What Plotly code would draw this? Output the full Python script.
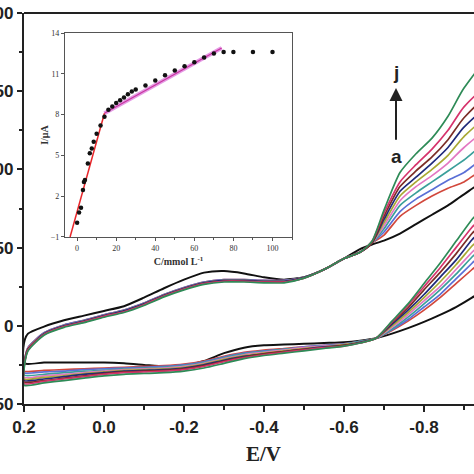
import plotly.graph_objects as go

# ---------------- main CV data ----------------
E_up = [0.2, 0.19, 0.15, 0.1, 0.05, 0.0, -0.05, -0.1, -0.15, -0.2, -0.25, -0.3, -0.35, -0.4,
        -0.45, -0.5, -0.55, -0.6, -0.64, -0.67, -0.7, -0.74, -0.78, -0.82, -0.86, -0.9, -0.96]
E_low = [-0.96, -0.92, -0.88, -0.84, -0.8, -0.76, -0.72, -0.68, -0.64, -0.6, -0.55, -0.5, -0.45,
         -0.4, -0.35, -0.3, -0.25, -0.2, -0.15, -0.1, -0.05, 0.0, 0.05, 0.1, 0.15, 0.2]

up_a = [-11, -5, -0.5, 3.5, 6.5, 9.5, 12.5, 18, 24, 29.5, 34, 35, 33.5, 31, 29.5, 31, 36, 43, 49, 52, 54.5, 59, 65, 71, 77, 84, 93]
up_b = [-25, -14, -4.5, 0.5, 3.5, 7, 10, 14.5, 20, 24.5, 28, 29.5, 29.5, 29, 29, 31, 36, 43, 47, 53, 58, 70, 77, 83, 88, 92, 101]
up_c = [-25, -14, -4.5, 0.5, 3.5, 7, 10, 14.5, 20, 24.5, 28, 29.5, 29.5, 29, 29, 31, 36, 43, 47, 53, 60, 73, 81, 87, 93, 98, 108]
up_d = [-25.5, -14.5, -5, 0, 3, 6.5, 9.5, 14, 19.5, 24, 27.5, 29, 29, 28.5, 28.5, 31, 36, 43, 47, 53, 62, 77, 85, 92, 99, 106, 117]
up_e = [-25.5, -14.5, -5, 0, 3, 6.5, 9.5, 14, 19.5, 24, 27.5, 29, 29, 28.5, 28.5, 31, 36, 43, 47, 53, 64, 80, 89, 96, 104, 114, 125]
up_f = [-26, -15, -5, 0, 3, 6.5, 9.5, 14, 19.5, 24, 27.5, 29, 29, 28.5, 28.5, 31, 36, 43, 47, 53, 66, 83, 92, 100, 109, 121, 133]
up_g = [-26, -15, -5, 0, 3, 6.5, 9.5, 14, 19.5, 24, 27.5, 29, 29, 28.5, 28.5, 31, 36, 43, 47, 53, 68, 86, 95, 104, 114, 127, 139]
up_h = [-26.5, -15, -5.5, -0.5, 2.5, 6, 9, 13.5, 19, 23.5, 27, 28.5, 28.5, 28, 28, 30.5, 36, 43, 47, 53, 70, 89, 99, 108, 119, 133, 146]
up_i = [-27, -15.5, -5.5, -0.5, 2.5, 6, 9, 13.5, 19, 23.5, 27, 28.5, 28.5, 28, 28, 30.5, 36, 43, 47, 54, 72, 92, 103, 113, 125, 140, 153]
up_j = [-28, -16, -6, -1, 2, 5.5, 8.5, 13, 18.5, 23, 26.5, 28, 28, 27.5, 27.5, 30.5, 36, 43, 47, 54, 74, 98, 110, 120, 134, 152, 170]

low_a = [25, 18, 12, 7, 2.5, -1.5, -5, -8, -9.5, -10.5, -11, -11.5, -12, -12.5, -14, -17.5, -22.5, -25.5, -26, -25, -24, -23.5, -23.5, -23.5, -23.5, -24]
low_b = [46, 36, 27, 18, 10, 3, -3, -8, -10, -11.5, -12.5, -13.5, -14.5, -15.5, -17, -19.5, -22.5, -24.5, -25.5, -26, -26.5, -27, -27.5, -28, -28.5, -29]
low_c = [50, 40, 30, 20, 12, 4, -2.5, -8, -10, -11.5, -12.5, -13.5, -15, -16, -17.5, -20, -23, -25, -26, -26.5, -27, -27.5, -28, -29, -29.5, -30]
low_d = [54, 44, 33, 23, 14, 5.5, -2, -8, -10, -12, -13, -14, -15, -16.5, -18, -20.5, -23.5, -25.5, -26.5, -27, -27.5, -28.5, -29, -30, -31, -31.5]
low_e = [58, 47, 36, 25, 16, 7, -1, -8, -10.5, -12, -13, -14, -15.5, -17, -18.5, -21, -24, -26, -27, -27.5, -28, -29, -30, -31, -32, -33]
low_f = [62, 51, 39, 28, 18, 8.5, 0, -8, -10.5, -12, -13.5, -14.5, -16, -17.5, -19, -21.5, -24.5, -26.5, -27.5, -28, -28.5, -29.5, -30.5, -32, -33, -34]
low_g = [66, 55, 42, 31, 20, 10, 1, -8, -10.5, -12.5, -13.5, -15, -16.5, -18, -19.5, -22, -25, -27, -28, -28.5, -29, -30, -31, -32.5, -34, -35]
low_h = [70, 59, 46, 34, 23, 11.5, 2, -8, -11, -12.5, -14, -15, -16.5, -18, -20, -22.5, -25.5, -27.5, -28.5, -29, -29.5, -30.5, -32, -33.5, -35, -36]
low_i = [74, 63, 50, 37, 25, 13, 2.5, -8, -11, -13, -14, -15.5, -17, -18.5, -20.5, -23, -26, -28, -29, -29.5, -30, -31, -32.5, -34, -35.5, -37]
low_j = [80, 68, 54, 40, 27, 14, 3, -8, -11, -13, -14.5, -16, -17.5, -19, -21, -24, -27, -29, -30, -30.5, -31, -32, -33.5, -35, -36.5, -38]

curve_names = ["a", "b", "c", "d", "e", "f", "g", "h", "i", "j"]
uppers = [up_a, up_b, up_c, up_d, up_e, up_f, up_g, up_h, up_i, up_j]
lowers = [low_a, low_b, low_c, low_d, low_e, low_f, low_g, low_h, low_i, low_j]
colors = ["#111111", "#d2483c", "#5a6fd6", "#3a9f9a", "#e377c2", "#a8a832",
          "#1f2a7a", "#7b2d26", "#d6336c", "#2e8b57"]

x_tickvals = [0.2, 0.0, -0.2, -0.4, -0.6, -0.8]
x_ticktext = ["0.2", "0.0", "-0.2", "-0.4", "-0.6", "-0.8"]
y_tickvals = [-50, 0, 50, 100, 150, 200]
y_ticktext = ["-50", "0", "50", "100", "150", "200"]

# ---------------- inset data ----------------
conc = [0, 1, 2, 3, 3.5, 4, 5.5, 6.5, 7.5, 8.5, 10, 12, 14, 16, 18, 20, 22, 24, 26, 28, 30,
        35, 40, 45, 50, 55, 60, 65, 70, 75, 80, 90, 100]
ip = [0.05, 0.8, 1.15, 2.45, 3.05, 3.2, 4.4, 5.15, 5.5, 6.0, 6.6, 7.2, 7.85, 8.35, 8.6, 8.85,
      9.05, 9.25, 9.5, 9.7, 9.85, 10.15, 10.5, 10.9, 11.25, 11.55, 11.85, 12.2, 12.5, 12.6,
      12.6, 12.6, 12.6]
fit1_x = [-3.6, 14]
fit1_y = [-1, 8.1]
fit2_x = [14, 74]
fit2_y = [8.1, 12.9]
inset_xticks = [0, 20, 40, 60, 80, 100]
inset_yticks = [-1, 2, 5, 8, 11, 14]

fig = go.Figure()

for name, up, low, col in zip(curve_names, uppers, lowers, colors):
    xs = E_up + E_low + [E_up[0]]
    ys = up + low + [up[0]]
    fig.add_trace(go.Scatter(
        x=xs, y=ys, mode="lines", name=name,
        line=dict(color=col, width=2.0 if name == "a" else 1.7, shape="spline", smoothing=0.6),
        xaxis="x", yaxis="y", showlegend=False))

# inset traces
fig.add_trace(go.Scatter(x=fit2_x, y=fit2_y, mode="lines",
                         line=dict(color="#e59ae5", width=4), xaxis="x2", yaxis="y2", showlegend=False))
fig.add_trace(go.Scatter(x=fit2_x, y=fit2_y, mode="lines",
                         line=dict(color="#c9359f", width=1.2), xaxis="x2", yaxis="y2", showlegend=False))
fig.add_trace(go.Scatter(x=fit1_x, y=fit1_y, mode="lines",
                         line=dict(color="#e8262a", width=1.5), xaxis="x2", yaxis="y2", showlegend=False))
fig.add_trace(go.Scatter(x=conc, y=ip, mode="markers",
                         marker=dict(color="#111111", size=4.5), xaxis="x2", yaxis="y2", showlegend=False))

axis_font = dict(family="Liberation Sans, Arial", size=17, color="#222222", weight="bold")

fig.update_layout(
    width=474, height=474,
    margin=dict(l=24, r=0, t=13, b=70),
    paper_bgcolor="white", plot_bgcolor="white",
    template="none",
    xaxis=dict(range=[0.2, -0.925], tickvals=x_tickvals, ticktext=x_ticktext,
               showline=True, linecolor="#222222", linewidth=2.2,
               ticks="outside", ticklen=6, tickwidth=2, tickcolor="#222222",
               minor=dict(tickvals=[0.1, -0.1, -0.3, -0.5, -0.7, -0.9], ticks="outside",
                          ticklen=4, tickwidth=2, tickcolor="#222222"),
               tickfont=axis_font, showgrid=False, zeroline=False, automargin=False,
               domain=[0, 1]),
    yaxis=dict(range=[-50, 200], tickvals=y_tickvals, ticktext=y_ticktext,
               showline=True, linecolor="#222222", linewidth=2.2,
               ticks="outside", ticklen=5, tickwidth=2, tickcolor="#222222",
               minor=dict(tickvals=[-25, 25, 75, 125, 175], ticks="outside",
                          ticklen=3, tickwidth=2, tickcolor="#222222"),
               tickfont=axis_font, showgrid=False, zeroline=False, automargin=False,
               domain=[0, 1]),
    xaxis2=dict(domain=[0.0911, 0.5956], anchor="y2", range=[-6.2, 110],
                tickvals=inset_xticks, showline=True, mirror=True, linecolor="#555555",
                linewidth=1.2, ticks="outside", ticklen=3, tickcolor="#555555",
                minor=dict(dtick=10, ticks="outside", ticklen=2, tickcolor="#555555"),
                tickfont=dict(family="Liberation Serif", size=8, color="#333333"),
                showgrid=False, zeroline=False, automargin=False,
                title=dict(text="C/mmol L<sup>-1</sup>", standoff=6,
                           font=dict(family="Liberation Serif", size=10, color="#333333", weight="bold"))),
    yaxis2=dict(domain=[0.4271, 0.9488], anchor="x2", range=[-1, 14],
                tickvals=inset_yticks, showline=True, mirror=True, linecolor="#555555",
                linewidth=1.2, ticks="outside", ticklen=3, tickcolor="#555555",
                tickfont=dict(family="Liberation Serif", size=8, color="#333333"),
                showgrid=False, zeroline=False, automargin=False,
                title=dict(text="I/μA", standoff=0,
                           font=dict(family="Liberation Serif", size=10, color="#333333", weight="bold"))),
    shapes=[dict(type="line", xref="paper", yref="paper", x0=0, x1=1, y0=1, y1=1,
                 line=dict(color="#222222", width=2.2))],
    annotations=[
        dict(text="E/V", xref="paper", yref="paper", x=0.533, y=-0.128, showarrow=False,
             font=dict(family="Liberation Serif", size=21, color="#222222", weight="bold"),
             xanchor="center", yanchor="middle"),
        dict(text="j", xref="x", yref="y", x=-0.73, y=162, showarrow=False,
             font=dict(family="Liberation Sans", size=19, color="#222222", weight="bold")),
        dict(text="a", xref="x", yref="y", x=-0.73, y=108, showarrow=False,
             font=dict(family="Liberation Sans", size=19, color="#222222", weight="bold")),
        dict(text="", xref="x", yref="y", x=-0.73, y=152, axref="x", ayref="y",
             ax=-0.73, ay=118, showarrow=True, arrowhead=2, arrowsize=1.3, arrowwidth=2,
             arrowcolor="#222222"),
    ],
)

fig.write_html("out.html")
